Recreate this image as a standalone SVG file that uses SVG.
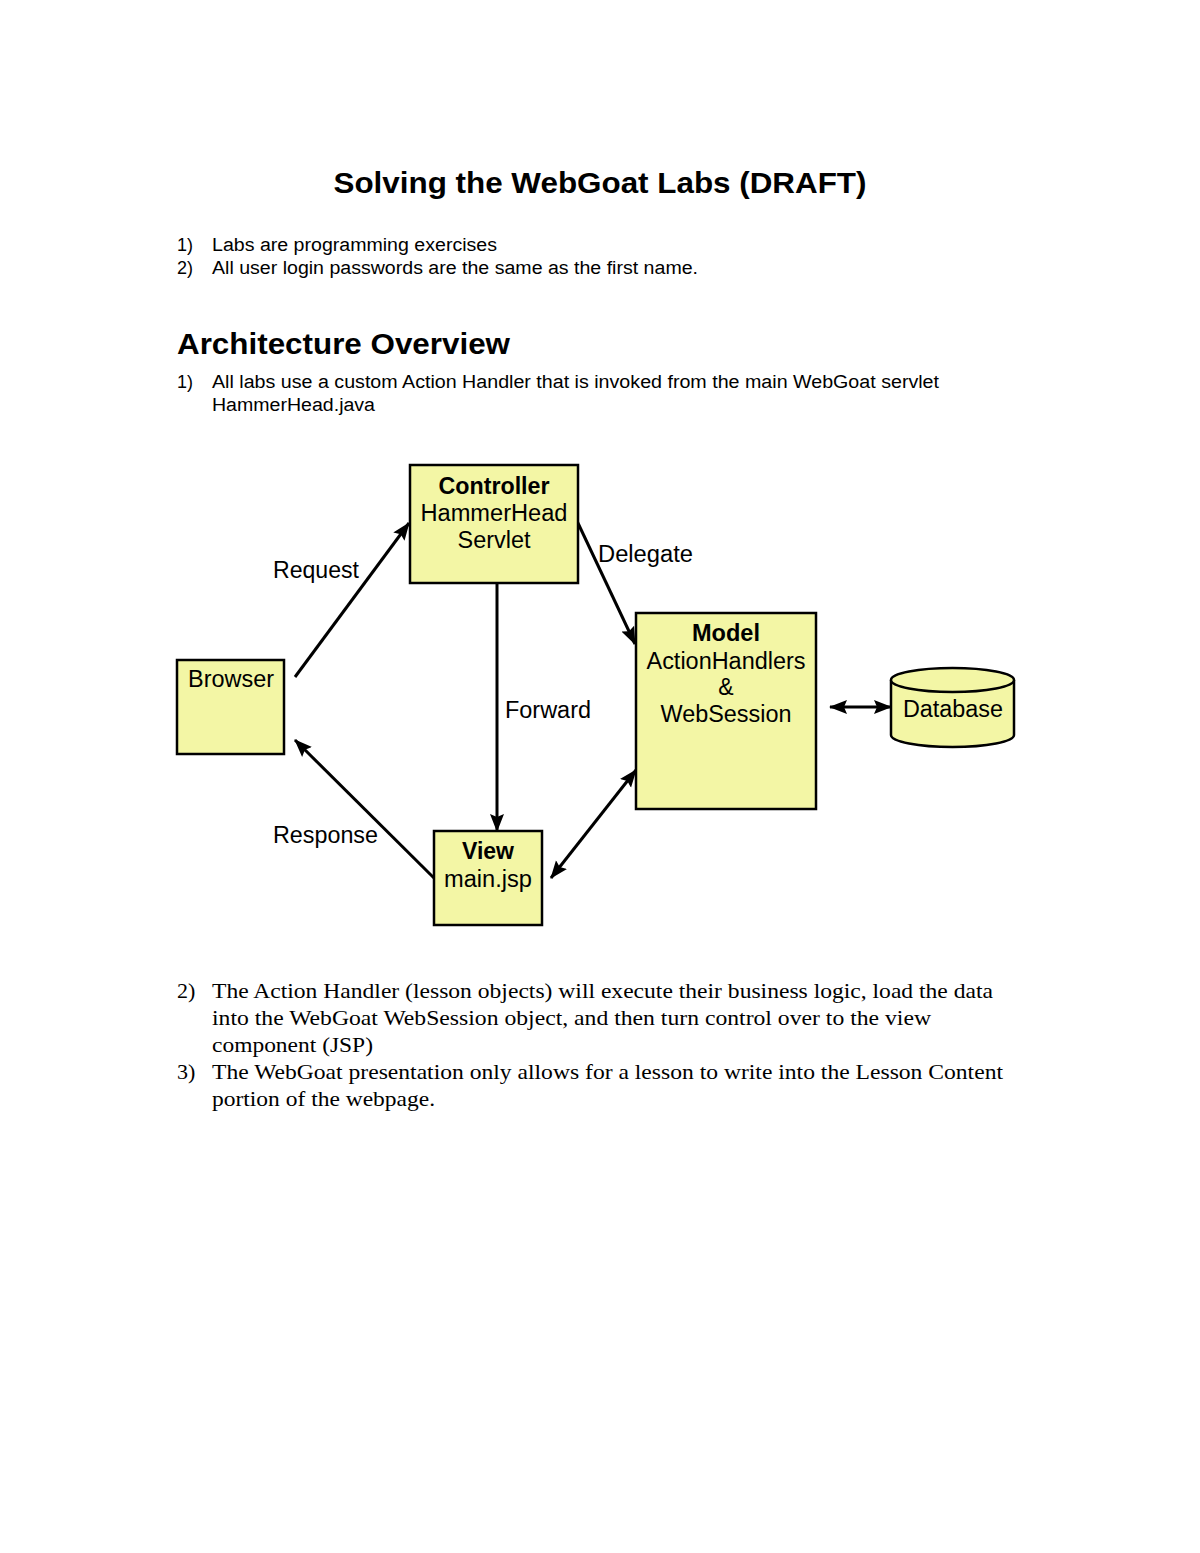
<svg xmlns="http://www.w3.org/2000/svg" width="1200" height="1553" viewBox="0 0 1200 1553">
<style>
.s{font-family:"Liberation Sans",Arial,sans-serif;fill:#000}
.r{font-family:"Liberation Serif","Times New Roman",serif;fill:#000;font-size:22px}
.b{font-weight:bold}
.box{fill:#F3F6A5;stroke:#000;stroke-width:2.5}
.c{stroke:#000;stroke-width:3;fill:none}
.n{font-size:23px}
.t{font-size:18px}
</style>
<defs>
<marker id="ah" markerUnits="userSpaceOnUse" markerWidth="18" markerHeight="16" viewBox="0 0 18 16" refX="17" refY="8" orient="auto-start-reverse">
<path d="M0,1 L18,8 L0,15 L3,8 Z" fill="#000"/>
</marker>
</defs>
<rect width="1200" height="1553" fill="#fff"/>
<g id="header">
<text class="s b" x="600" y="193" font-size="29" text-anchor="middle" textLength="533" lengthAdjust="spacingAndGlyphs">Solving the WebGoat Labs (DRAFT)</text>
<text class="s t" x="177" y="251">1)</text>
<text class="s t" x="212" y="251" textLength="285" lengthAdjust="spacingAndGlyphs">Labs are programming exercises</text>
<text class="s t" x="177" y="274">2)</text>
<text class="s t" x="212" y="274" textLength="486" lengthAdjust="spacingAndGlyphs">All user login passwords are the same as the first name.</text>
<text class="s b" x="177" y="354" font-size="29" textLength="333" lengthAdjust="spacingAndGlyphs">Architecture Overview</text>
<text class="s t" x="177" y="388">1)</text>
<text class="s t" x="212" y="388" textLength="727" lengthAdjust="spacingAndGlyphs">All labs use a custom Action Handler that is invoked from the main WebGoat servlet</text>
<text class="s t" x="212" y="411" textLength="163" lengthAdjust="spacingAndGlyphs">HammerHead.java</text>
</g>
<g id="connectors">
<line class="c" x1="295" y1="677" x2="409" y2="523" marker-end="url(#ah)"/>
<line class="c" x1="577" y1="521" x2="635" y2="644" marker-end="url(#ah)"/>
<line class="c" x1="497" y1="583" x2="497" y2="831" marker-end="url(#ah)"/>
<line class="c" x1="434" y1="878" x2="295" y2="740" marker-end="url(#ah)"/>
<line class="c" x1="551" y1="878" x2="636" y2="770" marker-start="url(#ah)" marker-end="url(#ah)"/>
<line class="c" x1="830" y1="707" x2="891" y2="707" marker-start="url(#ah)" marker-end="url(#ah)"/>
<text class="s n" x="273" y="578" textLength="86" lengthAdjust="spacingAndGlyphs">Request</text>
<text class="s n" x="598" y="562" textLength="95" lengthAdjust="spacingAndGlyphs">Delegate</text>
<text class="s n" x="505" y="718" textLength="86" lengthAdjust="spacingAndGlyphs">Forward</text>
<text class="s n" x="273" y="843" textLength="105" lengthAdjust="spacingAndGlyphs">Response</text>
</g>
<g id="controller">
<rect class="box" x="410" y="465" width="168" height="118"/>
<text class="s n b" x="494" y="494" text-anchor="middle" textLength="111" lengthAdjust="spacingAndGlyphs">Controller</text>
<text class="s n" x="494" y="521" text-anchor="middle" textLength="147" lengthAdjust="spacingAndGlyphs">HammerHead</text>
<text class="s n" x="494" y="548" text-anchor="middle" textLength="73" lengthAdjust="spacingAndGlyphs">Servlet</text>
</g>
<g id="browser">
<rect class="box" x="177" y="660" width="107" height="94"/>
<text class="s n" x="188" y="687" textLength="86" lengthAdjust="spacingAndGlyphs">Browser</text>
</g>
<g id="model">
<rect class="box" x="636" y="613" width="180" height="196"/>
<text class="s n b" x="726" y="641" text-anchor="middle" textLength="68" lengthAdjust="spacingAndGlyphs">Model</text>
<text class="s n" x="726" y="669" text-anchor="middle" textLength="159" lengthAdjust="spacingAndGlyphs">ActionHandlers</text>
<text class="s n" x="726" y="695" text-anchor="middle">&amp;</text>
<text class="s n" x="726" y="722" text-anchor="middle" textLength="131" lengthAdjust="spacingAndGlyphs">WebSession</text>
</g>
<g id="database">
<path class="box" d="M891,680 L891,735 A61.5,12 0 0 0 1014,735 L1014,680 A61.5,12 0 0 0 891,680 Z"/>
<path class="box" d="M891,680 A61.5,12 0 0 0 1014,680" fill="none"/>
<text class="s n" x="953" y="717" text-anchor="middle" textLength="100" lengthAdjust="spacingAndGlyphs">Database</text>
</g>
<g id="view">
<rect class="box" x="434" y="831" width="108" height="94"/>
<text class="s n b" x="488" y="859" text-anchor="middle" textLength="52" lengthAdjust="spacingAndGlyphs">View</text>
<text class="s n" x="488" y="887" text-anchor="middle" textLength="88" lengthAdjust="spacingAndGlyphs">main.jsp</text>
</g>
<g id="footer">
<text class="r" x="177" y="998">2)</text>
<text class="r" x="212" y="998" textLength="781" lengthAdjust="spacingAndGlyphs">The Action Handler (lesson objects) will execute their business logic, load the data</text>
<text class="r" x="212" y="1025" textLength="719" lengthAdjust="spacingAndGlyphs">into the WebGoat WebSession object, and then turn control over to the view</text>
<text class="r" x="212" y="1052" textLength="161" lengthAdjust="spacingAndGlyphs">component (JSP)</text>
<text class="r" x="177" y="1079">3)</text>
<text class="r" x="212" y="1079" textLength="791" lengthAdjust="spacingAndGlyphs">The WebGoat presentation only allows for a lesson to write into the Lesson Content</text>
<text class="r" x="212" y="1106" textLength="223" lengthAdjust="spacingAndGlyphs">portion of the webpage.</text>
</g>
</svg>
